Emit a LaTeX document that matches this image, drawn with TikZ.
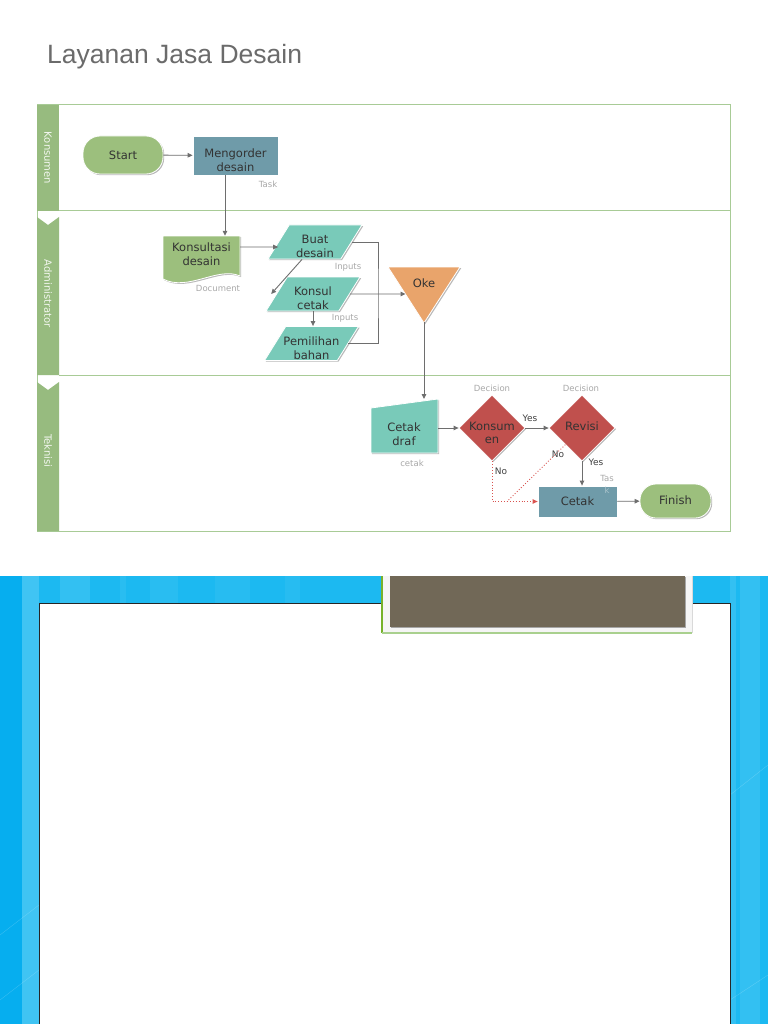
\documentclass[tikz,border=0pt]{standalone}
\usepackage{fontspec}
\setmainfont{DejaVu Sans}
\newfontfamily\titlefont{Liberation Sans}
\usetikzlibrary{shapes.geometric,arrows.meta,shadows}
\definecolor{lanegreen}{HTML}{A8CB96}
\definecolor{headgreen}{HTML}{97BB7F}
\definecolor{nodegreen}{HTML}{9CBF7D}
\definecolor{steelc}{HTML}{6F9BA9}
\definecolor{tealc}{HTML}{79CAB9}
\definecolor{orngc}{HTML}{E9A46B}
\definecolor{redc}{HTML}{C0504D}
\definecolor{arrgray}{HTML}{6E6E6E}
\definecolor{lblgray}{HTML}{A8A8A8}
\definecolor{txtdark}{HTML}{333333}
\definecolor{titlegray}{HTML}{6B6B6B}
\definecolor{skyblue}{HTML}{1CB9F1}
\definecolor{skydark}{HTML}{06AEEF}
\definecolor{taupe}{HTML}{716857}
\definecolor{tabgreen}{HTML}{77B22B}
\definecolor{tabgreenl}{HTML}{A9D08E}
\definecolor{dotred}{HTML}{D9534F}
\tikzset{
  shd/.style={drop shadow={shadow xshift=1.2pt,shadow yshift=-1.2pt,opacity=.28,fill=black}},
  shp/.style={draw=white, line width=0.8pt, inner sep=0pt, shd},
  term/.style={shp, fill=nodegreen, rounded corners=17pt, minimum width=80pt, minimum height=38pt},
  task/.style={shp, fill=steelc, minimum width=85pt, minimum height=39pt},
  para/.style={shp, fill=tealc, trapezium, trapezium left angle=66, trapezium right angle=114,
    trapezium stretches=true, minimum width=94pt, minimum height=34pt},
  dia/.style={shp, fill=redc, diamond, aspect=1, minimum width=66pt, minimum height=66pt},
  box0/.style={inner sep=0pt, outer sep=0pt},
  txt/.style={text=txtdark, align=center, inner sep=0pt, font=\fontsize{11.5}{13.6}\selectfont},
  lbl/.style={text=lblgray, inner sep=0pt, font=\fontsize{8.5}{10}\selectfont},
  yn/.style={text=black!75, inner sep=0pt, font=\fontsize{9}{10}\selectfont},
  lanehead/.style={text=white!88!headgreen, rotate=-90, inner sep=0pt, font=\fontsize{10}{11}\selectfont},
  arr/.style={draw=arrgray, line width=0.9pt, -{Triangle[length=5pt,width=4.5pt]}},
  ln/.style={draw=arrgray, line width=0.9pt},
  noarr/.style={draw=dotred, line width=0.9pt, dotted, -{Triangle[length=5pt,width=4.5pt]}},
  nol/.style={draw=dotred, line width=0.9pt, dotted},
}
\begin{document}
\begin{tikzpicture}[x=1pt,y=-1pt]
\useasboundingbox (0,0) rectangle (768,1024);
\fill[white] (0,0) rectangle (768,1024);

% title
\node[anchor=base west, font=\titlefont\fontsize{26.5}{30}\selectfont, text=titlegray, inner sep=0pt] (title) at (47,64) {Layanan Jasa Desain};

% swimlanes
\draw[lanegreen, line width=1pt] (37,105) rectangle (730,531);
\draw[lanegreen, line width=1pt] (59,211) -- (730,211);
\draw[lanegreen, line width=1pt] (59,375) -- (730,375);
\fill[headgreen] (37,105) rectangle (59,211);
\fill[headgreen] (37,217) -- (48,225) -- (59,217) -- (59,375) -- (37,375) -- cycle;
\fill[headgreen] (37,382) -- (48,390) -- (59,382) -- (59,531) -- (37,531) -- cycle;
\node[lanehead] (h1) at (48,158) {Konsumen};
\node[lanehead] (h2) at (48,294) {Administrator};
\node[lanehead] (h3) at (48,451) {Teknisi};

% Konsumen lane
\node[term] (start) at (123,155) {};
\node[txt] (startt) at (123,155) {Start};
\node[task] (meng) at (235.5,155.5) {};
\node[txt] (mengt) at (235.5,160) {Mengorder\\desain};
\node[lbl] (lt1) at (268,184) {Task};

% Administrator lane
\path[fill=nodegreen, draw=white, line width=0.8pt, shd] (163,236) -- (240,236) -- (240,276)
  .. controls (218,266) and (188,292) .. (163,279) -- cycle;
\node[txt, minimum width=77pt, minimum height=36pt] (kons) at (201.5,254) {Konsultasi\\desain};
\node[lbl] (ld) at (218,288) {Document};

\node[para] (buat) at (315,242) {\phantom{x}};
\node[txt] (buatt) at (315,246.5) {Buat\\desain};
\node[para] (konsul) at (313,294) {\phantom{x}};
\node[txt] (konsult) at (313,298.5) {Konsul\\cetak};
\node[para] (pemil) at (311.5,343.5) {\phantom{x}};
\node[txt] (pemilt) at (311.5,348.5) {Pemilihan\\bahan};
\node[lbl] (li1) at (348,267) {Inputs};
\node[lbl] (li2) at (345,318) {Inputs};

\path[fill=orngc, draw=white, line width=0.8pt, shd] (388,267) -- (460,267) -- (424,323) -- cycle;
\node[box0, minimum width=72pt, minimum height=56pt] (oke) at (424,294) {};
\node[txt] (oket) at (424,283) {Oke};

\coordinate (jn) at (378,294);

% Teknisi lane
\path[fill=tealc, draw=white, line width=0.8pt, shd] (371,408) -- (438,399) -- (438,453) -- (371,453) -- cycle;
\node[box0, minimum width=67pt, minimum height=54pt] (draf) at (404.5,426) {};
\node[txt] (draft) at (404,434) {Cetak\\draf};
\node[lbl] (lc) at (412,463) {cetak};

\node[dia] (konsumen) at (492,428) {};
\node[txt] (konsument) at (492,433) {Konsum\\en};
\node[dia] (revisi) at (582,428) {};
\node[txt] (revisit) at (582,426) {Revisi};
\node[lbl] (ldec1) at (492,388) {Decision};
\node[lbl] (ldec2) at (581,388) {Decision};

\node[lbl] (ltas) at (607,478) {Tas};
\node[task, minimum width=79pt, minimum height=31pt] (cetak) at (577.5,501.5) {};
\node[txt] (cetakt) at (577.5,501) {Cetak};
\node[lbl, text=steelc!60!white] (lk) at (607,490) {k};
\node[term, rounded corners=16pt, minimum width=71pt, minimum height=34pt] (finish) at (675.5,501) {};
\node[txt] (finisht) at (675.5,500) {Finish};

\coordinate (nj) at (507,501.5);

% connectors
\draw[arr] (start) -- (meng);
\draw[arr] ([xshift=-10.5pt]meng.south) -- ([xshift=-10.5pt]meng.south |- kons.north);
\draw[arr] ([yshift=7pt]kons.east) -- ([yshift=-5pt]buat.west);
\draw[arr] ([xshift=-13pt]buat.south) -- ([xshift=-5pt]konsul.west);
\draw[arr] (konsul.south) -- (konsul.south |- pemil.north);
\draw[ln] (buat.east) -| (jn) |- (pemil.east);
\draw[arr] (konsul.east) -- ([xshift=17.5pt]oke.west);
\draw[arr] (oke.south) -- (oke.south |- draf.north);
\draw[arr] (draf.east |- konsumen.west) -- (konsumen.west);
\draw[arr] (konsumen.east) -- (revisi.west);
\node[yn] (y1) at (530,418) {Yes};
\draw[arr] (revisi.south) -- (revisi.south |- cetak.north);
\node[yn] (y2) at (596,462) {Yes};
\draw[noarr] (konsumen.south) |- (cetak.west);
\draw[nol] (revisi.south west) -- (nj);
\node[yn] (n1) at (501,471) {No};
\node[yn] (n2) at (558,454) {No};
\draw[arr] (cetak) -- (finish);

% bottom slide
\fill[skyblue] (0,576) rectangle (768,1024);
\fill[skydark] (0,576) rectangle (22,1024);
\fill[white, opacity=.16] (22,576) rectangle (39,1024);
\fill[white, opacity=.10] (60,576) rectangle (90,603);
\fill[white, opacity=.06] (120,576) rectangle (126,603);
\fill[white, opacity=.06] (150,576) rectangle (178,603);
\fill[white, opacity=.05] (215,576) rectangle (250,603);
\fill[white, opacity=.05] (285,576) rectangle (300,603);
\fill[white, opacity=.10] (730,576) rectangle (736,1024);
\fill[white, opacity=.10] (740,576) rectangle (760,1024);
\draw[white, opacity=.2] (0,935) -- (39,905);
\draw[white, opacity=.2] (0,1000) -- (39,970);
\draw[white, opacity=.2] (730,795) -- (768,765);
\draw[white, opacity=.2] (730,1000) -- (768,975);
\filldraw[fill=white, draw=black!85, line width=0.8pt] (39,603) rectangle (730,1030);
\fill[black!4] (382,576) rectangle (692,633);
\draw[tabgreen, line width=1.5pt] (382,576) -- (382,633);
\draw[tabgreenl, line width=1.5pt] (382,633) -- (692,633);
\draw[black!15, line width=0.8pt] (692,576) -- (692,633);
\fill[black!35] (391,577) rectangle (686,628);
\fill[taupe] (390,576) rectangle (685,626.5);
\end{tikzpicture}
\end{document}
